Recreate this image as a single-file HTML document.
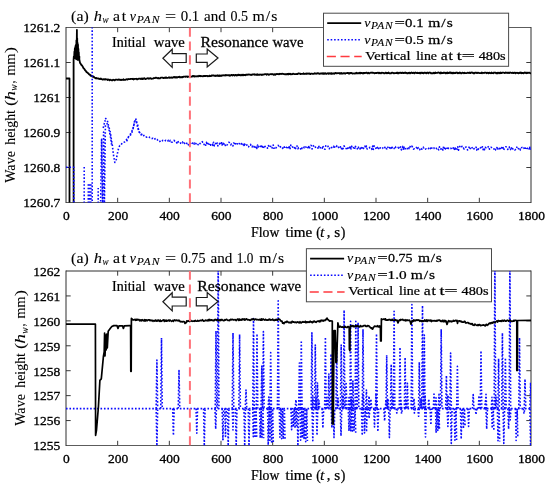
<!DOCTYPE html>
<html><head><meta charset="utf-8"><title>Wave height plot</title>
<style>html,body{margin:0;padding:0;background:#fff;width:550px;height:489px;overflow:hidden}svg{display:block}text{stroke:#000;stroke-width:0.25px}.tk text{stroke-width:0.32px}.tt text{stroke-width:0.12px}.yl text{stroke-width:0.08px}</style>
</head><body>
<svg width="550" height="489" viewBox="0 0 550 489">
<rect width="550" height="489" fill="#fff"/>
<defs><clipPath id="c1"><rect x="66.0" y="27.5" width="465.0" height="175.0"/></clipPath><clipPath id="c2"><rect x="66.0" y="271.0" width="465.0" height="174.5"/></clipPath></defs>
<rect x="66.0" y="27.5" width="465.0" height="175.0" fill="#fff" stroke="none"/>
<path d="M117.67 202.5v-4.7M117.67 27.5v4.7M169.33 202.5v-4.7M169.33 27.5v4.7M221 202.5v-4.7M221 27.5v4.7M272.67 202.5v-4.7M272.67 27.5v4.7M324.33 202.5v-4.7M324.33 27.5v4.7M376 202.5v-4.7M376 27.5v4.7M427.67 202.5v-4.7M427.67 27.5v4.7M479.33 202.5v-4.7M479.33 27.5v4.7M66.0 167.5h4.7M531.0 167.5h-4.7M66.0 132.5h4.7M531.0 132.5h-4.7M66.0 97.5h4.7M531.0 97.5h-4.7M66.0 62.5h4.7M531.0 62.5h-4.7" stroke="#3a3a3a" stroke-width="1.0" fill="none"/>
<path d="M66.0 27.5H531.0" stroke="#5c5c5c" stroke-width="1"/>
<path d="M66.0 202.5H531.0" stroke="#5c5c5c" stroke-width="1"/>
<path d="M66.0 27.0V203.0M531.0 27.0V203.0" stroke="#2e2e2e" stroke-width="1"/>
<g class="tk" font-family="'Liberation Serif', 'Times New Roman', serif" font-size="13.5" fill="#000"><text x="66.4" y="220.1" text-anchor="middle">0</text><text x="118.07" y="220.1" text-anchor="middle">200</text><text x="169.73" y="220.1" text-anchor="middle">400</text><text x="221.4" y="220.1" text-anchor="middle">600</text><text x="273.07" y="220.1" text-anchor="middle">800</text><text x="324.73" y="220.1" text-anchor="middle">1000</text><text x="376.4" y="220.1" text-anchor="middle">1200</text><text x="428.07" y="220.1" text-anchor="middle">1400</text><text x="479.73" y="220.1" text-anchor="middle">1600</text><text x="531.4" y="220.1" text-anchor="middle">1800</text><text x="60.3" y="207.3" text-anchor="end">1260.7</text><text x="60.3" y="172.3" text-anchor="end">1260.8</text><text x="60.3" y="137.3" text-anchor="end">1260.9</text><text x="60.3" y="102.3" text-anchor="end">1261</text><text x="60.3" y="67.3" text-anchor="end">1261.1</text><text x="60.3" y="32.3" text-anchor="end">1261.2</text></g>
<rect x="66.0" y="271.0" width="465.0" height="174.5" fill="#fff" stroke="none"/>
<path d="M117.67 445.5v-4.7M117.67 271v4.7M169.33 445.5v-4.7M169.33 271v4.7M221 445.5v-4.7M221 271v4.7M272.67 445.5v-4.7M272.67 271v4.7M324.33 445.5v-4.7M324.33 271v4.7M376 445.5v-4.7M376 271v4.7M427.67 445.5v-4.7M427.67 271v4.7M479.33 445.5v-4.7M479.33 271v4.7M66.0 420.57h4.7M531.0 420.57h-4.7M66.0 395.64h4.7M531.0 395.64h-4.7M66.0 370.71h4.7M531.0 370.71h-4.7M66.0 345.79h4.7M531.0 345.79h-4.7M66.0 320.86h4.7M531.0 320.86h-4.7M66.0 295.93h4.7M531.0 295.93h-4.7" stroke="#3a3a3a" stroke-width="1.0" fill="none"/>
<path d="M66.0 271.0H531.0" stroke="#2e2e2e" stroke-width="1"/>
<path d="M66.0 445.5H531.0" stroke="#5c5c5c" stroke-width="1"/>
<path d="M66.0 270.5V446.0M531.0 270.5V446.0" stroke="#2e2e2e" stroke-width="1"/>
<g class="tk" font-family="'Liberation Serif', 'Times New Roman', serif" font-size="13.5" fill="#000"><text x="66.4" y="463.1" text-anchor="middle">0</text><text x="118.07" y="463.1" text-anchor="middle">200</text><text x="169.73" y="463.1" text-anchor="middle">400</text><text x="221.4" y="463.1" text-anchor="middle">600</text><text x="273.07" y="463.1" text-anchor="middle">800</text><text x="324.73" y="463.1" text-anchor="middle">1000</text><text x="376.4" y="463.1" text-anchor="middle">1200</text><text x="428.07" y="463.1" text-anchor="middle">1400</text><text x="479.73" y="463.1" text-anchor="middle">1600</text><text x="531.4" y="463.1" text-anchor="middle">1800</text><text x="60.3" y="450.3" text-anchor="end">1255</text><text x="60.3" y="425.37" text-anchor="end">1256</text><text x="60.3" y="400.44" text-anchor="end">1257</text><text x="60.3" y="375.51" text-anchor="end">1258</text><text x="60.3" y="350.59" text-anchor="end">1259</text><text x="60.3" y="325.66" text-anchor="end">1260</text><text x="60.3" y="300.73" text-anchor="end">1261</text><text x="60.3" y="275.8" text-anchor="end">1262</text></g>
<g clip-path="url(#c1)" fill="none" stroke-linejoin="round">
<polyline points="66,78.5 69.5,78.5 69.5,210 73.6,210 73.6,59.1 73.6,59.97 73.8,56.6 74,56.45 74.2,56.29 74.4,51.61 74.6,57.46 74.8,48.72 75,58.03 75.2,47.2 75.4,57.73 75.6,45.71 75.8,56.36 76,44.77 76.2,59.31 76.4,40.37 76.6,56.89 76.9,30 77,58.51 77.2,38.34 77.4,58.31 77.6,42.9 77.8,59.91 78,44.71 78.2,59.43 78.4,48.87 78.6,56.58 78.8,52.35 79,57.23 79.2,58.45 79.4,56.72 79.3,59.1 80,62.93 80.6,63.61 81.2,64.69 81.8,65.18 82.4,66.1 82.91,66.94 83.43,68.06 83.94,68.53 84.46,69.13 84.97,70.08 85.49,70.66 86,71.22 86.5,72.09 87,72.44 87.5,72.46 88,73.19 88.5,73.57 89,74.32 89.5,74.62 90,74.65 90.5,75.7 91,75.36 91.54,75.89 92.09,76.46 92.63,76.19 93.18,76.76 93.72,76.62 94.27,77.45 94.81,77.8 95.36,77.9 95.9,78.44 96.41,78.01 96.91,78.44 97.42,78.43 97.93,78.5 98.43,78.47 98.94,78.89 99.44,79.07 99.95,78.73 100.46,78.98 100.96,78.52 101.47,79.18 101.97,79.21 102.48,79.6 102.99,79.53 103.49,79.12 104,79.3 104.5,79.6 105,79.07 105.5,79.52 106,79.3 106.5,79.31 107,79.3 107.5,79.99 108,79.47 108.5,79.62 109,79.8 109.5,80.28 110,79.62 110.5,79.94 111,80.02 111.5,80.32 112,80.25 112.5,80.28 113,79.74 113.5,79.85 114,79.79 114.5,80.26 115,80.31 115.5,79.58 116,79.59 116.5,79.63 117,79.62 117.5,79.84 118,79.92 118.5,79.62 119,79.37 119.5,79.74 120,79.68 120.5,79.84 121,80.16 121.5,79.9 122,79.72 122.5,79.79 123,79.82 123.5,79.24 124,79.97 124.5,79.84 125,79.9 125.5,79.81 126,79.42 126.5,79.41 127,79.12 127.5,79.57 128,79.03 128.5,79.01 129,79.12 129.5,79.05 130,79.19 130.5,78.91 131,78.84 131.5,78.95 132,78.88 132.5,79.09 133,78.77 133.5,79.51 134,79.25 134.5,78.81 135,78.88 135.5,78.94 136,78.93 136.5,78.69 137,79.32 137.5,79.43 138,78.93 138.5,78.92 139,78.54 139.5,78.53 140,78.73 140.5,78.63 141,79.12 141.5,78.49 142,78.34 142.5,79.16 143,78.75 143.5,78.39 144,78.72 144.5,78.23 145,78.66 145.5,79.04 146,78.91 146.5,78.74 147,78.33 147.5,78.4 148,78.19 148.5,78.71 149,78.48 149.5,78.67 150,78.25 150.5,78.13 151,78.64 151.5,78.77 152,78.63 152.5,78.56 153,78.55 153.5,78.46 154,77.97 154.5,78.21 155,78.05 155.5,77.73 156,77.71 156.5,77.91 157,77.87 157.5,78.24 158,78.45 158.5,77.97 159,78.39 159.5,78.41 160,78.36 160.5,77.81 161,77.65 161.5,77.64 162,77.59 162.5,77.57 163,77.93 163.5,78.15 164,78.08 164.5,77.73 165,77.86 165.5,77.97 166,77.31 166.5,77.8 167,78 167.5,77.87 168,77.82 168.5,77.55 169,77.26 169.5,77.78 170,77.35 170.5,77.75 171,77.88 171.5,77.34 172,77.32 172.5,77.79 173,77.57 173.5,77.05 174,76.98 174.5,76.98 175,77.64 175.5,77.53 176,76.91 176.5,77.5 177,77.62 177.5,77.3 178,77.01 178.5,77.16 179,76.76 179.5,76.64 180,77.47 180.5,77.16 181,77.03 181.5,77.37 182,76.9 182.5,77.27 183,77.21 183.5,76.63 184,76.65 184.5,76.66 185,76.59 185.5,76.88 186,76.56 186.5,76.68 187,76.4 187.5,77.08 188,76.56 188.5,76.63 189,76.72 189.5,76.99 190,76.53 190.5,76.95 191,76.55 191.5,76.55 192,76.52 192.5,76.04 193,76.4 193.5,76.14 194,75.95 194.5,76.64 195,76.06 195.5,76.3 196,76.5 196.5,76.33 197,76.09 197.5,76.24 198,76.25 198.5,76.43 199,75.8 199.5,76.18 200,75.87 200.5,75.89 201,76.32 201.5,76.07 202,76.1 202.5,76.27 203,76.39 203.5,75.96 204,76.09 204.5,75.98 205,75.98 205.5,76.13 206,75.9 206.5,75.96 207,75.89 207.5,76.3 208,76.07 208.5,76.21 209,76.26 209.5,75.63 210,75.89 210.5,76.22 211,76.11 211.5,75.47 212,75.44 212.5,75.71 213,75.37 213.5,75.51 214,75.34 214.5,75.87 215,75.96 215.5,76.04 216,75.36 216.5,75.85 217,75.79 217.5,75.31 218,75.96 218.5,76.03 219,75.34 219.5,75.99 220,75.48 220.5,75.54 221,75.98 221.5,75.83 222,75.21 222.5,75.44 223,75.5 223.5,75.33 224,75.19 224.5,75.28 225,75.63 225.5,74.99 226,75.46 226.5,75.34 227,74.95 227.5,75.22 228,75.46 228.5,75.35 229,74.93 229.5,75.75 230,75.56 230.5,75.71 231,74.92 231.5,75.05 232,74.84 232.5,75.49 233,75.02 233.5,74.88 234,75.13 234.5,75.56 235,75.46 235.5,74.95 236,74.83 236.5,75.51 237,75.19 237.5,75.29 238,74.73 238.5,74.69 239,75.24 239.5,75 240,74.67 240.5,75.43 241,75.15 241.5,75.28 242,74.63 242.5,75.31 243,74.58 243.5,75.29 244,74.91 244.5,74.79 245,74.97 245.5,75.3 246,74.69 246.5,74.55 247,74.9 247.5,74.63 248,74.5 248.5,74.53 249,74.42 249.5,74.54 250,74.63 250.5,74.61 251,75.01 251.5,74.58 252,74.76 252.5,74.46 253,74.6 253.5,74.3 254,74.5 254.5,74.27 255,74.91 255.5,74.74 256,74.4 256.5,74.65 257,75.05 257.5,74.3 258,74.93 258.5,74.57 259,74.62 259.5,74.91 260,74.5 260.5,74.6 261,74.75 261.5,75 262,74.42 262.5,74.85 263,74.73 263.5,74.65 264,74.43 264.5,74.37 265,74.1 265.5,74.16 266,74.09 266.5,74.69 267,74.24 267.5,74.15 268,74.07 268.5,74.74 269,74.75 269.5,74.56 270,74.2 270.5,74.16 271,74.19 271.5,74.33 272,74.05 272.5,74.3 273,74.13 273.5,74.75 274,74.75 274.5,74.35 275,74.07 275.5,74.71 276,74.11 276.5,74.14 277,73.81 277.5,74.14 278,74.22 278.5,74.23 279,73.95 279.5,74.21 280,73.75 280.5,73.98 281,73.81 281.5,74.08 282,73.75 282.5,73.72 283,73.96 283.5,73.89 284,74.2 284.5,74.14 285,74.33 285.5,74.23 286,74.27 286.5,74.41 287,73.96 287.5,73.89 288,74.48 288.5,73.71 289,74.22 289.5,74.14 290,73.59 290.5,74.29 291,74.33 291.5,74.08 292,74.17 292.5,74.23 293,73.62 293.5,73.95 294,73.92 294.5,74.21 295,74.17 295.5,74.18 296,73.96 296.5,74.22 297,74.02 297.5,74.02 298,73.6 298.5,73.41 299,73.49 299.5,73.68 300,73.44 300.5,74.1 301,73.84 301.5,73.9 302,73.89 302.5,73.93 303,73.76 303.5,73.31 304,74.02 304.5,73.97 305,73.75 305.5,73.77 306,73.87 306.5,73.34 307,73.93 307.5,73.49 308,73.33 308.5,73.49 309,73.9 309.5,73.43 310,73.9 310.5,74.11 311,73.67 311.5,73.56 312,73.64 312.5,73.82 313,73.89 313.5,73.75 314,73.77 314.5,73.25 315,73.31 315.5,73.4 316,73.84 316.5,73.44 317,73.67 317.5,73.16 318,73.2 318.5,73.38 319,73.74 319.5,73.75 320,73.73 320.5,73.38 321,73.57 321.5,73.52 322,73.52 322.5,73.2 323,73.89 323.5,73.26 324,73.96 324.5,73.91 325,73.08 325.5,73.47 326,73.79 326.5,73.92 327,73.45 327.5,73.28 328,73.22 328.5,73.88 329,73.21 329.5,73.54 330,73.13 330.5,73.47 331,73.85 331.5,73.11 332,73.72 332.5,73.44 333,73.77 333.5,73.6 334,73.17 334.5,73.76 335,73.39 335.5,72.97 336,72.94 336.5,73.38 337,73.33 337.5,73.19 338,73.04 338.5,73.22 339,73.19 339.5,73.65 340,72.89 340.5,73.56 341,73.64 341.5,72.98 342,73.7 342.5,73.51 343,73.67 343.5,73.11 344,73.18 344.5,73.2 345,73.73 345.5,73.36 346,73.15 346.5,73.2 347,73.06 347.5,72.85 348,72.89 348.5,73.55 349,73.05 349.5,73.63 350,73 350.5,73.01 351,73.23 351.5,72.93 352,73.09 352.5,73.61 353,73.54 353.5,73.47 354,73.3 354.5,73.55 355,73.57 355.5,73.21 356,73.36 356.5,72.75 357,73.36 357.5,73.1 358,73.36 358.5,73.26 359,72.93 359.5,72.71 360,73.5 360.5,72.77 361,73.08 361.5,72.96 362,72.91 362.5,73.3 363,73.51 363.5,72.86 364,73.21 364.5,72.88 365,73.11 365.5,72.96 366,72.75 366.5,72.74 367,72.77 367.5,73.39 368,73.02 368.5,72.77 369,73.38 369.5,73.45 370,72.95 370.5,72.68 371,72.72 371.5,72.63 372,72.86 372.5,72.63 373,72.76 373.5,72.78 374,73.06 374.5,73.34 375,73.22 375.5,72.91 376,72.91 376.5,73.01 377,72.88 377.5,72.85 378,72.6 378.5,72.79 379,73.41 379.5,72.65 380,72.99 380.5,73.1 381,73.31 381.5,72.73 382,72.78 382.5,72.76 383,72.89 383.5,72.93 384,73.39 384.5,73.3 385,73.32 385.5,72.55 386,72.56 386.5,73.17 387,73.33 387.5,72.95 388,73.06 388.5,72.53 389,72.88 389.5,73.36 390,73.27 390.5,73.29 391,73.4 391.5,72.75 392,72.62 392.5,72.66 393,72.99 393.5,73.13 394,73.37 394.5,73.17 395,73.1 395.5,73.21 396,72.93 396.5,73.01 397,72.55 397.5,73.22 398,72.72 398.5,73.34 399,73.09 399.5,72.79 400,72.63 400.5,72.74 401,73.08 401.5,73.14 402,72.61 402.5,72.57 403,72.98 403.5,73.03 404,72.86 404.5,72.71 405,73.05 405.5,72.52 406,72.78 406.5,72.92 407,73.37 407.5,73.08 408,73.3 408.5,72.93 409,72.71 409.5,72.72 410,73.36 410.5,73.13 411,72.78 411.5,72.52 412,72.95 412.5,73.1 413,72.87 413.5,72.73 414,73.1 414.5,73.33 415,72.7 415.5,72.52 416,72.8 416.5,72.87 417,73.11 417.5,72.67 418,73.21 418.5,73.15 419,72.94 419.5,72.67 420,73.36 420.5,72.77 421,73.22 421.5,72.69 422,72.68 422.5,73.17 423,72.75 423.5,73.34 424,72.93 424.5,72.65 425,72.68 425.5,72.86 426,73.08 426.5,73.33 427,72.61 427.5,72.83 428,72.67 428.5,73.35 429,72.6 429.5,72.52 430,72.53 430.5,72.83 431,73.28 431.5,73.27 432,73.13 432.5,73.37 433,73.31 433.5,72.77 434,72.64 434.5,73.31 435,73.14 435.5,72.5 436,73.07 436.5,72.81 437,72.8 437.5,72.76 438,72.62 438.5,72.47 439,72.72 439.5,72.78 440,73.32 440.5,72.57 441,73.33 441.5,72.65 442,72.78 442.5,73.2 443,73.2 443.5,72.85 444,72.5 444.5,72.88 445,72.79 445.5,73.28 446,72.63 446.5,72.78 447,73.26 447.5,72.48 448,72.82 448.5,73.18 449,73.14 449.5,72.49 450,72.48 450.5,72.51 451,73.28 451.5,72.68 452,73.12 452.5,73.26 453,72.76 453.5,72.7 454,73.31 454.5,73.01 455,72.69 455.5,73.09 456,72.73 456.5,72.7 457,72.45 457.5,73.13 458,73.27 458.5,73.02 459,73.3 459.5,72.47 460,72.66 460.5,72.88 461,73.31 461.5,73.31 462,72.8 462.5,72.68 463,72.84 463.5,72.89 464,73.29 464.5,72.61 465,73.17 465.5,73.11 466,73.19 466.5,73.15 467,73 467.5,72.75 468,72.74 468.5,72.78 469,73.15 469.5,72.52 470,72.63 470.5,73.13 471,72.67 471.5,72.51 472,72.48 472.5,72.95 473,72.74 473.5,73.33 474,73.25 474.5,73.34 475,72.69 475.5,72.53 476,72.54 476.5,72.9 477,73.09 477.5,72.85 478,72.66 478.5,72.83 479,73.01 479.5,73.06 480,73.12 480.5,73.21 481,73.05 481.5,72.56 482,73.21 482.5,72.71 483,72.96 483.5,72.79 484,73.11 484.5,72.63 485,72.67 485.5,72.67 486,72.59 486.5,73.25 487,72.97 487.5,72.74 488,72.81 488.5,73.34 489,72.91 489.5,72.66 490,73.18 490.5,73.04 491,73.34 491.5,72.54 492,72.88 492.5,73.19 493,73.21 493.5,73.27 494,72.49 494.5,72.71 495,72.56 495.5,72.62 496,73.33 496.5,72.97 497,73.29 497.5,72.79 498,73.23 498.5,72.85 499,72.68 499.5,73.15 500,73.3 500.5,72.55 501,72.99 501.5,73.01 502,72.65 502.5,72.78 503,72.58 503.5,72.63 504,72.68 504.5,72.99 505,73.04 505.5,72.63 506,72.46 506.5,72.74 507,73.06 507.5,72.62 508,72.73 508.5,72.63 509,73.17 509.5,72.94 510,72.51 510.5,72.54 511,72.81 511.5,72.95 512,73.03 512.5,72.53 513,72.6 513.5,73.08 514,72.82 514.5,72.7 515,72.73 515.5,73.31 516,72.73 516.5,72.96 517,72.77 517.5,72.82 518,73.23 518.5,73.35 519,72.78 519.5,72.63 520,73.11 520.5,72.63 521,72.46 521.5,73.26 522,72.83 522.5,73.19 523,72.82 523.5,73.24 524,72.86 524.5,72.6 525,72.46 525.5,72.95 526,73.03 526.5,73.27 527,72.53 527.5,73.01 528,72.78 528.5,72.9 529,72.58 529.5,72.7 530,72.92 530.5,73.28 531,72.9" stroke="#000" stroke-width="1.8"/>
<polyline points="66,167.2 73.8,167.2 73.8,210" stroke="#0a0aff" stroke-width="1.6" stroke-dasharray="1.6 1.85"/>
<polyline points="84.2,210 84.2,167.1" stroke="#0a0aff" stroke-width="1.6" stroke-dasharray="1.6 1.85"/>
<polyline points="88.3,210 88.3,183.7" stroke="#0a0aff" stroke-width="1.6" stroke-dasharray="1.6 1.85"/>
<polyline points="89.6,210 89.6,183.7" stroke="#0a0aff" stroke-width="1.6" stroke-dasharray="1.6 1.85"/>
<polyline points="90.9,210 90.9,183.7" stroke="#0a0aff" stroke-width="1.6" stroke-dasharray="1.6 1.85"/>
<polyline points="92.2,20 92.2,210" stroke="#0a0aff" stroke-width="1.6" stroke-dasharray="1.6 1.85"/>
<polyline points="98.2,210 98.2,188.1" stroke="#0a0aff" stroke-width="1.6" stroke-dasharray="1.6 1.85"/>
<polyline points="100.6,205 101.6,139.4 102.6,205 103.6,132 104.4,205 105.4,125.28" stroke="#0a0aff" stroke-width="1.6" stroke-dasharray="1.6 1.85"/>
<polyline points="105.3,118 106.4,119.39 107.5,121.25 108.75,126.69 110,130.55 111.2,138.17 112.4,145.91 113.6,155.6 114.8,162.48 116,160.81 117.25,154.24 118.5,148.65 119.75,145.57 121,145.07 122.2,142.94 123.4,142.31 124.7,141.94 126,140.66 127.15,138.17 128.3,137.04 129.4,135.6 130.5,134.04 131.85,130.97 133.2,127.65 134.45,122.69 135.7,118.45 136.9,124.59 138.1,128.68 139.3,131.92 140.5,134.51 141.75,134.23 143,136.3 144,135.46 145,136.87 146,136.9 147,137.26 148,136.58 149,137.04 150,137.61 150.91,137.57 151.82,138.54 152.73,138.35 153.64,138.69 154.55,137.98 155.45,139.89 156.36,139.92 157.27,139.62 158.18,141.36 159.09,141.76 160,141.29 160.94,140.57 161.88,141.34 162.81,140.4 163.75,140.46 164.69,141.25 165.62,140.38 166.56,141.29 167.5,141.48 168.44,140.26 169.38,141.82 170.31,140.38 171.25,142.08 172.19,142.2 173.12,141.52 174.06,140.33 175,141.51 175.94,141.34 176.88,142.98 177.81,141.02 178.75,143.05 179.69,143.57 180.62,143.04 181.56,143.41 182.5,141.95 183.44,144.16 184.38,143.04 185.31,144.41 186.25,144.46 187.19,142.66 188.12,144.44 189.06,144.96 190,142.87 190.91,143.57 191.82,144.58 192.73,142.98 193.64,144.85 194.55,143.19 195.45,144.55 196.36,142.76 197.27,143.64 198.18,144.68 199.09,142.79 200,143.5 200.71,143.54 201.43,142.81 202.14,141.7 202.86,142.3 203.57,142.23 204.29,145.35 205,144.34 205.71,145.22 206.43,142.34 207.14,144.82 207.86,142.16 208.57,143.84 209.29,144.28 210,143.19 210.71,145.26 211.43,144.01 212.14,144.12 212.86,145.35 213.57,142.26 214.29,145.83 215,144.39 215.71,143.47 216.43,145.1 217.14,142.99 217.86,145.91 218.57,144.27 219.29,143.42 220,145.06 220.71,143.79 221.43,142.75 222.14,145.04 222.86,142.28 223.57,145.39 224.29,143.15 225,144.72 225.71,146.12 226.43,144.55 227.14,144.88 227.86,143.5 228.57,142.28 229.29,142.43 230,142.92 230.71,144.81 231.43,144.09 232.14,144.44 232.86,145.99 233.57,142.96 234.29,143.37 235,145.09 235.71,142.59 236.43,142.54 237.14,143.97 237.86,143 238.57,144.02 239.29,143.51 240,144.97 240.71,145.02 241.43,143.5 242.14,145.2 242.86,144.63 243.57,143.29 244.29,146.52 245,143.77 245.7,143.6 246.4,143.58 247.1,145.95 247.8,147.09 248.5,146.93 249.2,145.61 249.9,145.26 250.6,144.45 251.3,147.18 252,147.05 252.71,146.21 253.41,147.39 254.12,146.59 254.82,148.57 255.53,147.76 256.24,145.82 256.94,148.44 257.65,145.01 258.35,146.97 259.06,146.47 259.76,145.8 260.47,145.09 261.18,147.97 261.88,144.91 262.59,147.07 263.29,148.63 264,145.44 264.71,145.68 265.41,147.32 266.12,146.92 266.82,147.46 267.53,148.15 268.24,145.6 268.94,146.14 269.65,146.11 270.35,145.11 271.06,148.48 271.76,148.06 272.47,147.79 273.18,144.96 273.88,148.31 274.59,147.92 275.29,146.81 276,147.92 276.71,146.76 277.41,145.86 278.12,145.38 278.82,145.9 279.53,145.13 280.24,146.32 280.94,147.98 281.65,147.77 282.35,148.37 283.06,147.84 283.76,146.06 284.47,147.22 285.18,146.75 285.88,148.17 286.59,147.11 287.29,146.08 288,147.59 288.71,148.89 289.41,145.9 290.12,148.56 290.82,145.1 291.53,146.09 292.24,146 292.94,148.03 293.65,148.84 294.35,148.05 295.06,146.38 295.76,148.59 296.47,146.39 297.18,146.04 297.88,148.72 298.59,147.61 299.29,147.87 300,147.76 300.71,149.03 301.43,147 302.14,148.49 302.86,147.93 303.57,148.58 304.29,146.91 305,148.07 305.71,147.46 306.43,146.42 307.14,146.04 307.86,147.7 308.57,145.53 309.29,148.87 310,145.81 310.71,145.35 311.43,145.68 312.14,148.98 312.86,146.65 313.57,145.85 314.29,145.41 315,145.47 315.71,148.08 316.43,147.85 317.14,148.12 317.86,148.29 318.57,145.61 319.29,147.72 320,146.82 320.71,148.65 321.43,148.66 322.14,148.96 322.86,145.67 323.57,148.89 324.29,149.08 325,149.21 325.71,145.87 326.43,146.28 327.14,145.91 327.86,145.61 328.57,148.87 329.29,148.74 330,148.04 330.7,148.81 331.4,148.04 332.1,146.66 332.8,145.92 333.5,145.92 334.2,148.56 334.9,146.35 335.6,146.82 336.3,147.24 337,145.63 337.7,146.58 338.4,146.69 339.1,148.43 339.8,147.04 340.5,146.86 341.2,149.44 341.9,147.6 342.6,149 343.3,148.07 344,145.72 344.7,147.26 345.4,147.36 346.1,148.71 346.8,147.01 347.5,148.44 348.2,147.78 348.9,146.5 349.6,149.09 350.3,146.01 351,148.93 351.7,146.34 352.4,145.67 353.1,146.47 353.8,148.72 354.5,149.59 355.2,145.7 355.9,147.65 356.6,147.66 357.3,148.88 358,146.44 358.7,147.68 359.4,147.1 360.1,149.04 360.8,146.76 361.5,149.5 362.2,146.86 362.9,146.59 363.6,148.54 364.3,147.74 365,146.19 365.7,148.3 366.4,146.08 367.1,148.92 367.8,148.56 368.5,148.92 369.2,148.29 369.9,147.21 370.6,147.4 371.3,147.37 372,149.36 372.7,146.15 373.4,149.36 374.1,145.92 374.8,146.64 375.5,146.88 376.2,149.43 376.9,147.84 377.6,147.36 378.3,149.38 379,146.78 379.7,147.7 380.4,147.99 381.1,148.88 381.8,148.88 382.5,148.46 383.2,147.27 383.9,147.19 384.6,146.51 385.3,149.27 386,148.55 386.7,148.87 387.4,146.59 388.1,147.67 388.8,149.01 389.5,148.24 390.2,146.43 390.9,147.78 391.6,149.48 392.3,146.9 393,146.72 393.7,147.16 394.4,148.77 395.1,149.34 395.8,146.59 396.5,146.6 397.2,146.97 397.9,147.29 398.6,148.08 399.3,146.64 400,147.31 400.7,146.76 401.41,149.91 402.11,148.92 402.82,146.42 403.52,149.86 404.23,146.42 404.93,147.56 405.63,149.96 406.34,149.2 407.04,148.96 407.75,147.77 408.45,146.82 409.15,148.59 409.86,146.47 410.56,146.87 411.27,147.6 411.97,146.18 412.68,147.65 413.38,149.22 414.08,148.83 414.79,148.06 415.49,148.59 416.2,147.92 416.9,146.63 417.61,148.49 418.31,147.69 419.01,149.04 419.72,149.71 420.42,147.8 421.13,148.38 421.83,149.08 422.54,147.77 423.24,147.01 423.94,148.98 424.65,149.62 425.35,149.2 426.06,148.9 426.76,149.52 427.46,148.83 428.17,148.68 428.87,147.93 429.58,147.37 430.28,148.63 430.99,146.52 431.69,147.81 432.39,149.26 433.1,148.98 433.8,148.65 434.51,147.14 435.21,147.84 435.92,147.96 436.62,148.63 437.32,147.79 438.03,148.85 438.73,149.88 439.44,146.89 440.14,148.78 440.85,149.28 441.55,147.72 442.25,148.13 442.96,150.07 443.66,146.33 444.37,148.35 445.07,146.82 445.77,149.31 446.48,149.95 447.18,148.27 447.89,146.6 448.59,148.49 449.3,148.36 450,149.07 450.7,148.25 451.41,148.76 452.11,149.52 452.82,148.29 453.52,147.85 454.23,150 454.93,147.05 455.63,148.95 456.34,147.79 457.04,149.27 457.75,146.71 458.45,150.16 459.16,147.64 459.86,146.45 460.57,147.32 461.27,147.83 461.97,146.28 462.68,147.91 463.38,147.92 464.09,149.03 464.79,147.65 465.5,147.3 466.2,147.14 466.9,149.21 467.61,150 468.31,148.35 469.02,147.12 469.72,149.45 470.43,147.82 471.13,147.1 471.83,146.77 472.54,149.36 473.24,149.5 473.95,148.8 474.65,148.14 475.36,148.51 476.06,147.17 476.77,150.12 477.47,147.68 478.17,148.82 478.88,149.55 479.58,149.54 480.29,148.15 480.99,147.45 481.7,148.47 482.4,146.78 483.1,149.62 483.81,147.7 484.51,149.69 485.22,147.36 485.92,147.79 486.63,147.3 487.33,148 488.03,147.04 488.74,146.31 489.44,149.18 490.15,147.42 490.85,147.28 491.56,147.51 492.26,148.22 492.97,148.02 493.67,148.86 494.37,148.95 495.08,147.76 495.78,150.03 496.49,149.73 497.19,146.54 497.9,149.63 498.6,149.94 499.3,149.46 500.01,146.89 500.71,149.65 501.42,148.86 502.12,146.39 502.83,146.38 503.53,150.14 504.23,148.96 504.94,147.34 505.64,146.74 506.35,146.91 507.05,147.28 507.76,149.45 508.46,147.73 509.17,146.96 509.87,149.96 510.57,149.52 511.28,147.02 511.98,149.92 512.69,148.79 513.39,149.48 514.1,149.03 514.8,149.94 515.5,149.51 516.21,149.72 516.91,147.15 517.62,149.14 518.32,148.49 519.03,149.34 519.73,148.13 520.43,149.9 521.14,148.6 521.84,147.44 522.55,147.32 523.25,146.94 523.96,148.35 524.66,146.62 525.37,148.25 526.07,146.97 526.77,148.36 527.48,148.38 528.18,148.55 528.89,149.85 529.59,146.42 530.3,149.76 531,148.4" stroke="#0a0aff" stroke-width="1.6" stroke-dasharray="1.6 1.85"/>
<polyline points="103.2,127.95 104.1,124.35 105,120.76 106.1,122.79 107.2,123.8 108.35,127.37 109.5,131.74 110.65,137.82 111.8,146" stroke="#0a0aff" stroke-width="1.6" stroke-dasharray="1.6 1.85"/>
<polyline points="126.5,141.25 127.5,139.75 128.5,137.15 129.5,136.7 130.5,135 131.5,133.61 132.5,130.69 133.55,126.87 134.6,121.02 135.6,120.97 136.6,121.72 137.7,125.16 138.8,131.39 139.7,132.73 140.6,133.71 141.5,135.5" stroke="#0a0aff" stroke-width="1.6" stroke-dasharray="1.6 1.85"/>
<line x1="189.9" y1="27.6" x2="189.9" y2="202.5" stroke="#ff7078" stroke-width="2" stroke-dasharray="9.2 4.6"/>
</g>
<g clip-path="url(#c2)" fill="none" stroke-linejoin="round">
<polyline points="66,408.6 531,408.6" stroke="#0a0aff" stroke-width="1.6" stroke-dasharray="1.6 1.85"/>
<polyline points="156.15,408.6 156.9,360 157.65,408.6" stroke="#0a0aff" stroke-width="1.6" stroke-dasharray="1.6 1.85"/>
<polyline points="160.75,408.6 161.5,338 162.25,408.6" stroke="#0a0aff" stroke-width="1.6" stroke-dasharray="1.6 1.85"/>
<polyline points="178.25,408.6 179,370.6 179.75,408.6" stroke="#0a0aff" stroke-width="1.6" stroke-dasharray="1.6 1.85"/>
<polyline points="215.25,408.6 216,331 216.75,408.6" stroke="#0a0aff" stroke-width="1.6" stroke-dasharray="1.6 1.85"/>
<polyline points="217.45,408.6 218.2,260 218.95,408.6" stroke="#0a0aff" stroke-width="1.6" stroke-dasharray="1.6 1.85"/>
<polyline points="232.25,408.6 233,332.8 233.75,408.6" stroke="#0a0aff" stroke-width="1.6" stroke-dasharray="1.6 1.85"/>
<polyline points="238.85,408.6 239.6,334.5 240.35,408.6" stroke="#0a0aff" stroke-width="1.6" stroke-dasharray="1.6 1.85"/>
<polyline points="245.25,408.6 246,390 246.75,408.6" stroke="#0a0aff" stroke-width="1.6" stroke-dasharray="1.6 1.85"/>
<polyline points="252.75,408.6 253.5,318.5 254.25,408.6" stroke="#0a0aff" stroke-width="1.6" stroke-dasharray="1.6 1.85"/>
<polyline points="256.25,408.6 257,333.8 257.75,408.6" stroke="#0a0aff" stroke-width="1.6" stroke-dasharray="1.6 1.85"/>
<polyline points="261.05,408.6 261.8,365.6 262.55,408.6" stroke="#0a0aff" stroke-width="1.6" stroke-dasharray="1.6 1.85"/>
<polyline points="262.65,408.6 263.4,331.5 264.15,408.6" stroke="#0a0aff" stroke-width="1.6" stroke-dasharray="1.6 1.85"/>
<polyline points="268.05,408.6 268.8,397 269.55,408.6" stroke="#0a0aff" stroke-width="1.6" stroke-dasharray="1.6 1.85"/>
<polyline points="269.95,408.6 270.7,352.6 271.45,408.6" stroke="#0a0aff" stroke-width="1.6" stroke-dasharray="1.6 1.85"/>
<polyline points="277.45,408.6 278.2,300.9 278.95,408.6" stroke="#0a0aff" stroke-width="1.6" stroke-dasharray="1.6 1.85"/>
<polyline points="295.15,408.6 295.9,399.7 296.65,408.6" stroke="#0a0aff" stroke-width="1.6" stroke-dasharray="1.6 1.85"/>
<polyline points="298.65,408.6 299.4,363 300.15,408.6" stroke="#0a0aff" stroke-width="1.6" stroke-dasharray="1.6 1.85"/>
<polyline points="300.55,408.6 301.3,340.5 302.05,408.6" stroke="#0a0aff" stroke-width="1.6" stroke-dasharray="1.6 1.85"/>
<polyline points="311.15,408.6 311.9,332.7 312.65,408.6" stroke="#0a0aff" stroke-width="1.6" stroke-dasharray="1.6 1.85"/>
<polyline points="314.55,408.6 315.3,345 316.05,408.6" stroke="#0a0aff" stroke-width="1.6" stroke-dasharray="1.6 1.85"/>
<polyline points="316.75,408.6 317.5,383 318.25,408.6" stroke="#0a0aff" stroke-width="1.6" stroke-dasharray="1.6 1.85"/>
<polyline points="324.65,408.6 325.4,337.2 326.15,408.6" stroke="#0a0aff" stroke-width="1.6" stroke-dasharray="1.6 1.85"/>
<polyline points="328.05,408.6 328.8,374 329.55,408.6" stroke="#0a0aff" stroke-width="1.6" stroke-dasharray="1.6 1.85"/>
<polyline points="330.25,408.6 331,354 331.75,408.6" stroke="#0a0aff" stroke-width="1.6" stroke-dasharray="1.6 1.85"/>
<polyline points="335.95,408.6 336.7,342.8 337.45,408.6" stroke="#0a0aff" stroke-width="1.6" stroke-dasharray="1.6 1.85"/>
<polyline points="340.45,408.6 341.2,345 341.95,408.6" stroke="#0a0aff" stroke-width="1.6" stroke-dasharray="1.6 1.85"/>
<polyline points="343.35,408.6 344.1,310 344.85,408.6" stroke="#0a0aff" stroke-width="1.6" stroke-dasharray="1.6 1.85"/>
<polyline points="345.35,408.6 346.1,382 346.85,408.6" stroke="#0a0aff" stroke-width="1.6" stroke-dasharray="1.6 1.85"/>
<polyline points="349.85,408.6 350.6,321.4 351.35,408.6" stroke="#0a0aff" stroke-width="1.6" stroke-dasharray="1.6 1.85"/>
<polyline points="352.15,408.6 352.9,381 353.65,408.6" stroke="#0a0aff" stroke-width="1.6" stroke-dasharray="1.6 1.85"/>
<polyline points="355.05,408.6 355.8,321.4 356.55,408.6" stroke="#0a0aff" stroke-width="1.6" stroke-dasharray="1.6 1.85"/>
<polyline points="357.35,408.6 358.1,322.5 358.85,408.6" stroke="#0a0aff" stroke-width="1.6" stroke-dasharray="1.6 1.85"/>
<polyline points="362.25,408.6 363,329.3 363.75,408.6" stroke="#0a0aff" stroke-width="1.6" stroke-dasharray="1.6 1.85"/>
<polyline points="365.65,408.6 366.4,390 367.15,408.6" stroke="#0a0aff" stroke-width="1.6" stroke-dasharray="1.6 1.85"/>
<polyline points="370.15,408.6 370.9,399 371.65,408.6" stroke="#0a0aff" stroke-width="1.6" stroke-dasharray="1.6 1.85"/>
<polyline points="375.75,408.6 376.5,333.8 377.25,408.6" stroke="#0a0aff" stroke-width="1.6" stroke-dasharray="1.6 1.85"/>
<polyline points="385.95,408.6 386.7,355.2 387.45,408.6" stroke="#0a0aff" stroke-width="1.6" stroke-dasharray="1.6 1.85"/>
<polyline points="390.45,408.6 391.2,364.2 391.95,408.6" stroke="#0a0aff" stroke-width="1.6" stroke-dasharray="1.6 1.85"/>
<polyline points="393.35,408.6 394.1,311.3 394.85,408.6" stroke="#0a0aff" stroke-width="1.6" stroke-dasharray="1.6 1.85"/>
<polyline points="399.25,408.6 400,347.3 400.75,408.6" stroke="#0a0aff" stroke-width="1.6" stroke-dasharray="1.6 1.85"/>
<polyline points="404.35,408.6 405.1,357.4 405.85,408.6" stroke="#0a0aff" stroke-width="1.6" stroke-dasharray="1.6 1.85"/>
<polyline points="406.65,408.6 407.4,383.3 408.15,408.6" stroke="#0a0aff" stroke-width="1.6" stroke-dasharray="1.6 1.85"/>
<polyline points="411.15,408.6 411.9,304.5 412.65,408.6" stroke="#0a0aff" stroke-width="1.6" stroke-dasharray="1.6 1.85"/>
<polyline points="418.55,408.6 419.3,362 420.05,408.6" stroke="#0a0aff" stroke-width="1.6" stroke-dasharray="1.6 1.85"/>
<polyline points="421.75,408.6 422.5,305.6 423.25,408.6" stroke="#0a0aff" stroke-width="1.6" stroke-dasharray="1.6 1.85"/>
<polyline points="423.55,408.6 424.3,335 425.05,408.6" stroke="#0a0aff" stroke-width="1.6" stroke-dasharray="1.6 1.85"/>
<polyline points="428.05,408.6 428.8,399 429.55,408.6" stroke="#0a0aff" stroke-width="1.6" stroke-dasharray="1.6 1.85"/>
<polyline points="440.45,408.6 441.2,329.3 441.95,408.6" stroke="#0a0aff" stroke-width="1.6" stroke-dasharray="1.6 1.85"/>
<polyline points="445.65,408.6 446.4,375.5 447.15,408.6" stroke="#0a0aff" stroke-width="1.6" stroke-dasharray="1.6 1.85"/>
<polyline points="449.85,408.6 450.6,353 451.35,408.6" stroke="#0a0aff" stroke-width="1.6" stroke-dasharray="1.6 1.85"/>
<polyline points="456.65,408.6 457.4,366.4 458.15,408.6" stroke="#0a0aff" stroke-width="1.6" stroke-dasharray="1.6 1.85"/>
<polyline points="472.45,408.6 473.2,394.6 473.95,408.6" stroke="#0a0aff" stroke-width="1.6" stroke-dasharray="1.6 1.85"/>
<polyline points="480.25,408.6 481,350.7 481.75,408.6" stroke="#0a0aff" stroke-width="1.6" stroke-dasharray="1.6 1.85"/>
<polyline points="484.75,408.6 485.5,401 486.25,408.6" stroke="#0a0aff" stroke-width="1.6" stroke-dasharray="1.6 1.85"/>
<polyline points="494.15,408.6 494.9,260 495.65,408.6" stroke="#0a0aff" stroke-width="1.6" stroke-dasharray="1.6 1.85"/>
<polyline points="497.85,408.6 498.6,358.6 499.35,408.6" stroke="#0a0aff" stroke-width="1.6" stroke-dasharray="1.6 1.85"/>
<polyline points="501.65,408.6 502.4,333 503.15,408.6" stroke="#0a0aff" stroke-width="1.6" stroke-dasharray="1.6 1.85"/>
<polyline points="504.65,408.6 505.4,357.9 506.15,408.6" stroke="#0a0aff" stroke-width="1.6" stroke-dasharray="1.6 1.85"/>
<polyline points="509.15,408.6 509.9,260 510.65,408.6" stroke="#0a0aff" stroke-width="1.6" stroke-dasharray="1.6 1.85"/>
<polyline points="518.75,408.6 519.5,337.6 520.25,408.6" stroke="#0a0aff" stroke-width="1.6" stroke-dasharray="1.6 1.85"/>
<polyline points="524.25,408.6 525,379 525.75,408.6" stroke="#0a0aff" stroke-width="1.6" stroke-dasharray="1.6 1.85"/>
<polyline points="529.85,408.6 530.6,382.7 531.35,408.6" stroke="#0a0aff" stroke-width="1.6" stroke-dasharray="1.6 1.85"/>
<polyline points="312.3,408.6 313,397.17 313.7,408.6" stroke="#0a0aff" stroke-width="1.6" stroke-dasharray="1.6 1.85"/>
<polyline points="315.3,408.6 316,397.92 316.7,408.6" stroke="#0a0aff" stroke-width="1.6" stroke-dasharray="1.6 1.85"/>
<polyline points="318.3,408.6 319,400.47 319.7,408.6" stroke="#0a0aff" stroke-width="1.6" stroke-dasharray="1.6 1.85"/>
<polyline points="326.3,408.6 327,397.26 327.7,408.6" stroke="#0a0aff" stroke-width="1.6" stroke-dasharray="1.6 1.85"/>
<polyline points="331.3,408.6 332,397.55 332.7,408.6" stroke="#0a0aff" stroke-width="1.6" stroke-dasharray="1.6 1.85"/>
<polyline points="337.3,408.6 338,398.11 338.7,408.6" stroke="#0a0aff" stroke-width="1.6" stroke-dasharray="1.6 1.85"/>
<polyline points="342.3,408.6 343,395.29 343.7,408.6" stroke="#0a0aff" stroke-width="1.6" stroke-dasharray="1.6 1.85"/>
<polyline points="348.3,408.6 349,397.58 349.7,408.6" stroke="#0a0aff" stroke-width="1.6" stroke-dasharray="1.6 1.85"/>
<polyline points="350.3,408.6 351,398.41 351.7,408.6" stroke="#0a0aff" stroke-width="1.6" stroke-dasharray="1.6 1.85"/>
<polyline points="352.3,408.6 353,399.55 353.7,408.6" stroke="#0a0aff" stroke-width="1.6" stroke-dasharray="1.6 1.85"/>
<polyline points="362.3,408.6 363,394.66 363.7,408.6" stroke="#0a0aff" stroke-width="1.6" stroke-dasharray="1.6 1.85"/>
<polyline points="368.3,408.6 369,396.12 369.7,408.6" stroke="#0a0aff" stroke-width="1.6" stroke-dasharray="1.6 1.85"/>
<polyline points="375.3,408.6 376,394.63 376.7,408.6" stroke="#0a0aff" stroke-width="1.6" stroke-dasharray="1.6 1.85"/>
<polyline points="385.3,408.6 386,399.67 386.7,408.6" stroke="#0a0aff" stroke-width="1.6" stroke-dasharray="1.6 1.85"/>
<polyline points="387.3,408.6 388,398.85 388.7,408.6" stroke="#0a0aff" stroke-width="1.6" stroke-dasharray="1.6 1.85"/>
<polyline points="392.3,408.6 393,394.29 393.7,408.6" stroke="#0a0aff" stroke-width="1.6" stroke-dasharray="1.6 1.85"/>
<polyline points="400.3,408.6 401,400.88 401.7,408.6" stroke="#0a0aff" stroke-width="1.6" stroke-dasharray="1.6 1.85"/>
<polyline points="405.3,408.6 406,400.75 406.7,408.6" stroke="#0a0aff" stroke-width="1.6" stroke-dasharray="1.6 1.85"/>
<polyline points="413.3,408.6 414,398.58 414.7,408.6" stroke="#0a0aff" stroke-width="1.6" stroke-dasharray="1.6 1.85"/>
<polyline points="420.3,408.6 421,398.31 421.7,408.6" stroke="#0a0aff" stroke-width="1.6" stroke-dasharray="1.6 1.85"/>
<polyline points="424.3,408.6 425,395.1 425.7,408.6" stroke="#0a0aff" stroke-width="1.6" stroke-dasharray="1.6 1.85"/>
<polyline points="433.3,408.6 434,394.11 434.7,408.6" stroke="#0a0aff" stroke-width="1.6" stroke-dasharray="1.6 1.85"/>
<polyline points="435.3,408.6 436,397.7 436.7,408.6" stroke="#0a0aff" stroke-width="1.6" stroke-dasharray="1.6 1.85"/>
<polyline points="438.3,408.6 439,394.42 439.7,408.6" stroke="#0a0aff" stroke-width="1.6" stroke-dasharray="1.6 1.85"/>
<polyline points="447.3,408.6 448,395.33 448.7,408.6" stroke="#0a0aff" stroke-width="1.6" stroke-dasharray="1.6 1.85"/>
<polyline points="478.3,408.6 479,395.69 479.7,408.6" stroke="#0a0aff" stroke-width="1.6" stroke-dasharray="1.6 1.85"/>
<polyline points="485.3,408.6 486,394.21 486.7,408.6" stroke="#0a0aff" stroke-width="1.6" stroke-dasharray="1.6 1.85"/>
<polyline points="491.3,408.6 492,397.25 492.7,408.6" stroke="#0a0aff" stroke-width="1.6" stroke-dasharray="1.6 1.85"/>
<polyline points="495.3,408.6 496,397.08 496.7,408.6" stroke="#0a0aff" stroke-width="1.6" stroke-dasharray="1.6 1.85"/>
<polyline points="156.15,408.6 156.9,446 157.65,408.6" stroke="#0a0aff" stroke-width="1.6" stroke-dasharray="1.6 1.85"/>
<polyline points="172.65,408.6 173.4,435.4 174.15,408.6" stroke="#0a0aff" stroke-width="1.6" stroke-dasharray="1.6 1.85"/>
<polyline points="196.05,408.6 196.8,433.3 197.55,408.6" stroke="#0a0aff" stroke-width="1.6" stroke-dasharray="1.6 1.85"/>
<polyline points="203.55,408.6 204.3,446 205.05,408.6" stroke="#0a0aff" stroke-width="1.6" stroke-dasharray="1.6 1.85"/>
<polyline points="214.95,408.6 215.7,429 216.45,408.6" stroke="#0a0aff" stroke-width="1.6" stroke-dasharray="1.6 1.85"/>
<polyline points="222.15,408.6 222.9,439.7 223.65,408.6" stroke="#0a0aff" stroke-width="1.6" stroke-dasharray="1.6 1.85"/>
<polyline points="224.75,408.6 225.5,436.5 226.25,408.6" stroke="#0a0aff" stroke-width="1.6" stroke-dasharray="1.6 1.85"/>
<polyline points="227.45,408.6 228.2,446 228.95,408.6" stroke="#0a0aff" stroke-width="1.6" stroke-dasharray="1.6 1.85"/>
<polyline points="232.25,408.6 233,430 233.75,408.6" stroke="#0a0aff" stroke-width="1.6" stroke-dasharray="1.6 1.85"/>
<polyline points="235.45,408.6 236.2,446 236.95,408.6" stroke="#0a0aff" stroke-width="1.6" stroke-dasharray="1.6 1.85"/>
<polyline points="243.95,408.6 244.7,446 245.45,408.6" stroke="#0a0aff" stroke-width="1.6" stroke-dasharray="1.6 1.85"/>
<polyline points="248.25,408.6 249,446 249.75,408.6" stroke="#0a0aff" stroke-width="1.6" stroke-dasharray="1.6 1.85"/>
<polyline points="297.15,408.6 297.9,446 298.65,408.6" stroke="#0a0aff" stroke-width="1.6" stroke-dasharray="1.6 1.85"/>
<polyline points="312.05,408.6 312.8,440.7 313.55,408.6" stroke="#0a0aff" stroke-width="1.6" stroke-dasharray="1.6 1.85"/>
<polyline points="316.25,408.6 317,435.4 317.75,408.6" stroke="#0a0aff" stroke-width="1.6" stroke-dasharray="1.6 1.85"/>
<polyline points="322.15,408.6 322.9,428 323.65,408.6" stroke="#0a0aff" stroke-width="1.6" stroke-dasharray="1.6 1.85"/>
<polyline points="331.15,408.6 331.9,428 332.65,408.6" stroke="#0a0aff" stroke-width="1.6" stroke-dasharray="1.6 1.85"/>
<polyline points="333.25,408.6 334,437.6 334.75,408.6" stroke="#0a0aff" stroke-width="1.6" stroke-dasharray="1.6 1.85"/>
<polyline points="340.25,408.6 341,436 341.75,408.6" stroke="#0a0aff" stroke-width="1.6" stroke-dasharray="1.6 1.85"/>
<polyline points="348.25,408.6 349,431 349.75,408.6" stroke="#0a0aff" stroke-width="1.6" stroke-dasharray="1.6 1.85"/>
<polyline points="361.45,408.6 362.2,435.4 362.95,408.6" stroke="#0a0aff" stroke-width="1.6" stroke-dasharray="1.6 1.85"/>
<polyline points="363.75,408.6 364.5,433 365.25,408.6" stroke="#0a0aff" stroke-width="1.6" stroke-dasharray="1.6 1.85"/>
<polyline points="365.75,408.6 366.5,432 367.25,408.6" stroke="#0a0aff" stroke-width="1.6" stroke-dasharray="1.6 1.85"/>
<polyline points="368.35,408.6 369.1,418.4 369.85,408.6" stroke="#0a0aff" stroke-width="1.6" stroke-dasharray="1.6 1.85"/>
<polyline points="373.75,408.6 374.5,427 375.25,408.6" stroke="#0a0aff" stroke-width="1.6" stroke-dasharray="1.6 1.85"/>
<polyline points="377.15,408.6 377.9,431.7 378.65,408.6" stroke="#0a0aff" stroke-width="1.6" stroke-dasharray="1.6 1.85"/>
<polyline points="383.85,408.6 384.6,421 385.35,408.6" stroke="#0a0aff" stroke-width="1.6" stroke-dasharray="1.6 1.85"/>
<polyline points="388.65,408.6 389.4,437.6 390.15,408.6" stroke="#0a0aff" stroke-width="1.6" stroke-dasharray="1.6 1.85"/>
<polyline points="396.05,408.6 396.8,413 397.55,408.6" stroke="#0a0aff" stroke-width="1.6" stroke-dasharray="1.6 1.85"/>
<polyline points="400.85,408.6 401.6,413.6 402.35,408.6" stroke="#0a0aff" stroke-width="1.6" stroke-dasharray="1.6 1.85"/>
<polyline points="413.65,408.6 414.4,413 415.15,408.6" stroke="#0a0aff" stroke-width="1.6" stroke-dasharray="1.6 1.85"/>
<polyline points="417.85,408.6 418.6,416.3 419.35,408.6" stroke="#0a0aff" stroke-width="1.6" stroke-dasharray="1.6 1.85"/>
<polyline points="424.75,408.6 425.5,437 426.25,408.6" stroke="#0a0aff" stroke-width="1.6" stroke-dasharray="1.6 1.85"/>
<polyline points="430.15,408.6 430.9,424.8 431.65,408.6" stroke="#0a0aff" stroke-width="1.6" stroke-dasharray="1.6 1.85"/>
<polyline points="438.05,408.6 438.8,429 439.55,408.6" stroke="#0a0aff" stroke-width="1.6" stroke-dasharray="1.6 1.85"/>
<polyline points="447.15,408.6 447.9,426.4 448.65,408.6" stroke="#0a0aff" stroke-width="1.6" stroke-dasharray="1.6 1.85"/>
<polyline points="450.55,408.6 451.3,443.4 452.05,408.6" stroke="#0a0aff" stroke-width="1.6" stroke-dasharray="1.6 1.85"/>
<polyline points="460.45,408.6 461.2,439.1 461.95,408.6" stroke="#0a0aff" stroke-width="1.6" stroke-dasharray="1.6 1.85"/>
<polyline points="467.85,408.6 468.6,426.4 469.35,408.6" stroke="#0a0aff" stroke-width="1.6" stroke-dasharray="1.6 1.85"/>
<polyline points="475.25,408.6 476,414.7 476.75,408.6" stroke="#0a0aff" stroke-width="1.6" stroke-dasharray="1.6 1.85"/>
<polyline points="485.95,408.6 486.7,429 487.45,408.6" stroke="#0a0aff" stroke-width="1.6" stroke-dasharray="1.6 1.85"/>
<polyline points="503.05,408.6 503.8,443.4 504.55,408.6" stroke="#0a0aff" stroke-width="1.6" stroke-dasharray="1.6 1.85"/>
<polyline points="507.85,408.6 508.6,429 509.35,408.6" stroke="#0a0aff" stroke-width="1.6" stroke-dasharray="1.6 1.85"/>
<polyline points="509.45,408.6 510.2,420 510.95,408.6" stroke="#0a0aff" stroke-width="1.6" stroke-dasharray="1.6 1.85"/>
<polyline points="523.25,408.6 524,413.6 524.75,408.6" stroke="#0a0aff" stroke-width="1.6" stroke-dasharray="1.6 1.85"/>
<polyline points="529.85,408.6 530.6,446 531.35,408.6" stroke="#0a0aff" stroke-width="1.6" stroke-dasharray="1.6 1.85"/>
<polyline points="252.7,408.6 253.3,436.63 254.4,408.6 255,437.92 256.1,408.6 256.7,437.44" stroke="#0a0aff" stroke-width="1.6" stroke-dasharray="1.6 1.85"/>
<polyline points="259.6,408.6 260.2,438 261.3,408.6 261.9,437.35 263,408.6 263.6,438.17" stroke="#0a0aff" stroke-width="1.6" stroke-dasharray="1.6 1.85"/>
<polyline points="267.6,408.6 268.2,444.89 269.3,408.6 269.9,442.01 271,408.6 271.6,442.02 272.7,408.6 273.3,442.64" stroke="#0a0aff" stroke-width="1.6" stroke-dasharray="1.6 1.85"/>
<polyline points="279.3,408.6 279.9,437.17 281,408.6 281.6,438.74 282.7,408.6 283.3,439.08 284.4,408.6 285,438.84" stroke="#0a0aff" stroke-width="1.6" stroke-dasharray="1.6 1.85"/>
<polyline points="291,408.6 291.6,429.72 292.7,408.6 293.3,426.93 294.4,408.6 295,428.4 296.1,408.6 296.7,426.61" stroke="#0a0aff" stroke-width="1.6" stroke-dasharray="1.6 1.85"/>
<polyline points="300,408.6 300.6,440.25 301.7,408.6 302.3,437.97 303.4,408.6 304,438.41 305.1,408.6 305.7,441.8 306.8,408.6 307.4,440.96" stroke="#0a0aff" stroke-width="1.6" stroke-dasharray="1.6 1.85"/>
<polyline points="350,408.6 350.6,430.76 351.7,408.6 352.3,432.52 353.4,408.6 354,430.48 355.1,408.6 355.7,432.81" stroke="#0a0aff" stroke-width="1.6" stroke-dasharray="1.6 1.85"/>
<polyline points="435.5,408.6 436.1,432.71 437.2,408.6 437.8,430.48 438.9,408.6 439.5,429.89" stroke="#0a0aff" stroke-width="1.6" stroke-dasharray="1.6 1.85"/>
<polyline points="454.3,408.6 454.9,440.22 456,408.6 456.6,440.95" stroke="#0a0aff" stroke-width="1.6" stroke-dasharray="1.6 1.85"/>
<polyline points="462.8,408.6 463.4,428.67 464.5,408.6 465.1,426.14" stroke="#0a0aff" stroke-width="1.6" stroke-dasharray="1.6 1.85"/>
<polyline points="491.6,408.6 492.2,428.17 493.3,408.6 493.9,430.73" stroke="#0a0aff" stroke-width="1.6" stroke-dasharray="1.6 1.85"/>
<polyline points="497.4,408.6 498,440.81 499.1,408.6 499.7,441.4" stroke="#0a0aff" stroke-width="1.6" stroke-dasharray="1.6 1.85"/>
<polyline points="515.5,408.6 516.1,440.46 517.2,408.6 517.8,437.51" stroke="#0a0aff" stroke-width="1.6" stroke-dasharray="1.6 1.85"/>
<polyline points="66,324.2 95.4,324.2 95.6,435.3 96.5,430 98.4,407 99.9,380.3 101.3,378.8 103.4,356.5 104.2,352 104.6,333 105,356 105.8,335 106.2,350 106.8,334 107.3,348 108.2,331.2 110.2,328.5 111.8,326.5 113.8,325.6 117,325.6 118,328.5 119,325.8 122.5,325.8 123.4,328.5 124.3,325.8 129.6,325.6 130.6,325.6 130.8,371.3 131.2,371.3 131.4,318.4 133,319.8 133.61,319.92 134.21,319.77 134.82,319.38 135.43,320.27 136.04,319.33 136.64,320.18 137.25,319.36 137.86,319.87 138.46,319.57 139.07,319.68 139.68,320.83 140.29,320.59 140.89,319.81 141.5,320.77 142.11,319.71 142.71,320.03 143.32,320.79 143.93,320.48 144.54,319.64 145.14,321.08 145.75,319.87 146.36,319.96 146.96,320.81 147.57,320.13 148.18,320.1 148.79,319.77 149.39,319.82 150,320.63 150.6,320.09 151.2,320.67 151.8,320.31 152.4,320.45 153,321.26 153.6,320.51 154.2,320.66 154.8,321.13 155.4,320.05 156,320.01 156.6,321.22 157.2,321.08 157.8,320.18 158.4,320.09 159,320.97 159.6,321.3 160.2,320.12 160.8,321.33 161.4,321.23 162,320.79 162.6,320.5 163.2,320 163.8,319.9 164.4,321.38 165,320.23 165.6,320.98 166.2,320.27 166.8,321.19 167.4,320.83 168,320.35 168.6,320.17 169.2,321.04 169.8,320.01 170.4,320.27 171,320.8 171.6,321.28 172.2,320.9 172.8,320.38 173.4,321.4 174,320.27 174.6,319.97 175.2,320.38 175.8,320.67 176.4,320.06 177,320.25 177.6,320.57 178.2,320.9 178.8,320.2 179.4,320.57 180,321.43 180.62,321.82 181.25,321.55 181.88,321.86 182.5,321.94 183.12,321.47 183.75,321.56 184.38,321.78 185,323.46 185.6,322.72 186.2,322.74 186.8,320.83 187.4,321.42 188,320.77 188.6,321.15 189.21,320.48 189.81,321.55 190.42,320.06 191.02,320.8 191.62,321.09 192.23,321.33 192.83,321.06 193.43,320.99 194.04,321.12 194.64,321.3 195.25,320.38 195.85,320.9 196.45,321.23 197.06,321.17 197.66,320.43 198.26,321.01 198.87,321.11 199.47,320.63 200.08,320.7 200.68,320.29 201.28,320.6 201.89,320.63 202.49,319.77 203.09,320.65 203.7,321.2 204.3,321 204.91,320.74 205.51,320.18 206.11,320.72 206.72,320.46 207.32,320.22 207.92,320.84 208.53,319.62 209.13,320.67 209.74,319.5 210.34,320.4 210.94,320.2 211.55,319.78 212.15,320.51 212.75,320.18 213.36,320.35 213.96,320.82 214.57,319.75 215.17,319.34 215.77,319.79 216.38,320.38 216.98,319.6 217.58,319.53 218.19,320.69 218.79,320.29 219.4,319.92 220,320.63 220.61,319.72 221.21,320.25 221.82,319.49 222.42,319.86 223.03,320.45 223.64,320.62 224.24,320.56 224.85,319.75 225.45,320.06 226.06,319.63 226.67,319.33 227.27,319.9 227.88,320.44 228.48,320.45 229.09,320.22 229.7,320.6 230.3,319.51 230.91,319.33 231.52,319.78 232.12,319.49 232.73,319.38 233.33,319.7 233.94,320.03 234.55,319.81 235.15,319.52 235.76,320.35 236.36,320.57 236.97,319.71 237.58,319.1 238.18,319.02 238.79,320.36 239.39,319.02 240,320.08 240.61,319.86 241.21,319.43 241.82,320.19 242.42,318.95 243.03,319.13 243.64,319.63 244.24,318.94 244.85,320.22 245.45,319.26 246.06,319.1 246.67,318.94 247.27,319.87 247.88,319.57 248.48,319.85 249.09,319.88 249.7,320.12 250.3,320.35 250.91,319.91 251.52,319.13 252.12,319.56 252.73,319.08 253.33,318.8 253.94,319.53 254.55,319.91 255.15,319.05 255.76,319.19 256.36,319.3 256.97,319.85 257.58,319.56 258.18,319.71 258.79,319.93 259.39,319.34 260,319.97 260.61,320.15 261.21,318.85 261.82,320.2 262.42,319.87 263.03,318.92 263.64,319.44 264.24,319.72 264.85,320.18 265.45,319.33 266.06,319.64 266.67,320.14 267.27,320.01 267.88,320.25 268.48,319.48 269.09,319.79 269.7,319.08 270.3,319.91 270.91,320.06 271.52,319.78 272.12,319.91 272.73,319.1 273.33,320.21 273.94,320.34 274.55,320.34 275.15,319.63 275.76,320.04 276.36,319.29 276.97,320.24 277.58,320.16 278.18,319.35 278.79,318.93 279.39,319.5 280,319.68 280.66,320.81 281.32,321.14 281.98,321.19 282.64,323.21 283.3,322.8 283.98,323.6 284.65,322.23 285.32,322.11 286,322.46 286.61,321.43 287.22,321.46 287.83,322.05 288.43,322.39 289.04,322.59 289.65,322.36 290.26,322.77 290.87,322.06 291.48,322.8 292.09,321.42 292.7,321.65 293.3,322.15 293.91,321.78 294.52,322.49 295.13,322.35 295.74,322.18 296.35,322.7 296.96,322.25 297.57,321.86 298.17,321.98 298.78,322.74 299.39,322.83 300,321.73 300.6,322.75 301.2,322.92 301.8,322.19 302.4,322.25 303,321.64 303.6,322.16 304.2,322.09 304.8,322.24 305.4,321.3 306,322.79 306.6,322.05 307.2,321.85 307.8,322.47 308.4,322.08 309,321.95 309.6,322.25 310.2,321.23 310.8,321.97 311.4,321.76 312,322.61 312.6,322.54 313.2,321.48 313.8,321.79 314.4,321.22 315,321.69 315.62,322.22 316.25,322.28 316.88,321.52 317.5,321.18 318.12,320.9 318.75,321.5 319.38,321.91 320,320.56 320.62,321.52 321.25,320.22 321.88,320.42 322.5,320.39 323.12,321.04 323.75,320.38 324.38,320.35 325,320.69 325.67,319.27 326.33,319.67 327,318.1 327.67,319.48 328.33,319.83 329,320.52 329.62,321.05 330.25,320.9 330.88,320.8 331.5,321 332.3,321 332.3,424 333.3,424 334,330.6 335.2,330.6 335.9,362.5 336.6,362.5 337.9,322.9 338.8,327 339.42,327.03 340.04,326.42 340.66,326.47 341.28,327.13 341.9,327.12 342.52,326.93 343.14,327.42 343.76,327.02 344.38,327.39 345,326.37 345.7,327.22 346.4,327.36 347.1,327.54 347.8,326.64 348.5,326.67 349.2,327.68 349.4,349.35 349.9,350.6 350.1,326.82 350.7,325.61 351.31,325.78 351.91,326.56 352.51,325.82 353.12,325.56 353.72,326.73 354.32,326.07 354.92,326.66 355.53,325.6 356.13,326.04 356.73,326.5 357.34,325.43 357.94,325.72 358.54,326.49 359.15,326.86 359.75,326.95 360.35,325.58 360.95,326.21 361.56,326.61 362.16,326.2 362.76,326.5 363.37,325.7 363.97,325.51 364.57,325.57 365.18,325.46 365.78,326.28 366.38,326.22 366.98,326.31 367.59,325.63 368.19,325.7 368.79,325.73 369.4,326.74 370,326.98 370.67,327.98 371.33,327.75 372,328.8 372.67,329.19 373.33,327.37 374,326.82 374.62,326.13 375.24,326.37 375.86,326.45 376.48,326.33 377.1,326.61 377.72,325.68 378.34,326.79 378.96,327.03 379.58,325.98 380.2,326.5 380.4,327 380.6,341 381.2,341 381.4,318.8 382.2,319.53 383,319.35 383.61,319.03 384.22,318.99 384.83,319.56 385.43,318.78 386.04,320.19 386.65,320.06 387.26,319.92 387.87,320.18 388.48,319.82 389.09,319.48 389.7,319.8 390.3,319.66 390.91,320.44 391.52,320.17 392.13,319.31 392.74,320.37 393.35,320.11 393.96,320.18 394.57,320.25 395.17,319.61 395.78,320.41 396.39,320.39 397,320.11 398,322.93 399,320.42 399.61,319.87 400.22,320.39 400.83,319.36 401.44,319.81 402.06,320.03 402.67,319.32 403.28,319.89 403.89,320.36 404.5,320.35 405.11,319.74 405.72,320.89 406.33,320.47 406.94,319.96 407.56,320.49 408.17,320.36 408.78,320.32 409.39,320.11 410,321.1 411,324.23 412,320.82 412.61,320.93 413.21,321.29 413.82,319.76 414.43,320.72 415.04,320.93 415.64,320.16 416.25,320.4 416.86,319.85 417.46,320.09 418.07,320.39 418.68,319.96 419.29,320.21 419.89,321.27 420.5,320.71 421.11,320.65 421.71,321.39 422.32,320.76 422.93,321.45 423.54,320.89 424.14,321.17 424.75,320.01 425.36,320.85 425.96,321.12 426.57,319.99 427.18,321.41 427.79,320.19 428.39,320.7 429,320.22 429.61,320.75 430.21,320.95 430.82,320.07 431.43,321.5 432.04,320.67 432.64,320.85 433.25,320.97 433.86,320.61 434.46,320.49 435.07,321.09 435.68,320.95 436.29,320.51 436.89,321.21 437.5,320.55 438.11,320.11 438.71,320.48 439.32,320.17 439.93,320.36 440.54,321.33 441.14,320.75 441.75,321.57 442.36,321.34 442.96,320.24 443.57,321.75 444.18,321.68 444.79,320.3 445.39,321.64 446,320.89 447,324.46 448,321.76 448.6,320.59 449.2,321.04 449.8,321.7 450.4,321.36 451,320.95 451.6,321.77 452.2,321.51 452.8,321.17 453.4,320.38 454,321.2 454.6,320.93 455.2,320.53 455.8,320.28 456.4,321.04 457,320.4 457.5,323.41 458,321.27 458.62,320.99 459.25,320.74 459.88,321.32 460.5,321.12 461.12,321.76 461.75,321.42 462.38,322.23 463,322.22 463.64,322.06 464.27,321.45 464.91,321.43 465.55,322.86 466.18,322.86 466.82,322.79 467.45,322.55 468.09,322.59 468.73,323.43 469.36,323.42 470,323.65 470.6,323.89 471.2,324.27 471.8,323.54 472.4,323.82 473,325.17 473.6,325.25 474.2,325.37 474.8,324.2 475.4,324.42 476,324.93 476.62,325.18 477.25,325.5 477.88,324.66 478.5,325.37 479.12,324.62 479.75,324.64 480.38,325.58 481,325.38 481.62,325.51 482.25,325.1 482.88,325.27 483.5,324.84 484.12,325.05 484.75,325.69 485.38,325.84 486,324.62 486.6,324.41 487.2,325.23 487.8,324.66 488.4,324.61 489,323.44 489.6,323.5 490.2,322.95 490.8,323.56 491.4,322.57 492,322.75 492.62,323.17 493.23,321.99 493.85,322.23 494.46,322.43 495.08,322.6 495.69,321.69 496.31,321.48 496.92,320.93 497.54,322.06 498.15,320.67 498.77,320.56 499.38,321.22 500,320.98 500.61,321.28 501.22,320.64 501.83,321.39 502.44,320.25 503.06,320.45 503.67,321.15 504.28,320.2 504.89,320.54 505.5,321.19 506.11,321.13 506.72,320.45 507.33,320.21 507.94,320.53 508.56,321.1 509.17,320.51 509.78,320.09 510.39,321.02 511,320.78 511.61,321.32 512.22,321.33 512.83,321.27 513.44,320.49 514.06,321.06 514.67,320.24 515.28,320.25 515.89,320.36 516.5,320.5 516.8,321 516.8,370.4 517.4,370.4 517.5,320.5 531,320.3" stroke="#000" stroke-width="1.7"/>
<line x1="189.9" y1="270.6" x2="189.9" y2="445.5" stroke="#ff7078" stroke-width="2" stroke-dasharray="9.2 4.6"/>
</g>
<g font-family="'Liberation Serif', 'Times New Roman', serif" fill="#000"><text transform="translate(112.11,0) scale(0.9365,1)" x="0" y="47.30" font-size="15" textLength="35.82" lengthAdjust="spacing">Initial</text><text transform="translate(153.80,0) scale(0.9799,1)" x="0" y="47.30" font-size="15" textLength="31.65" lengthAdjust="spacing">wave</text><text transform="translate(200.53,0) scale(1.0461,1)" x="0" y="47.10" font-size="15" textLength="64.97" lengthAdjust="spacing">Resonance</text><text transform="translate(272.40,0) scale(0.9831,1)" x="0" y="47.10" font-size="15" textLength="31.65" lengthAdjust="spacing">wave</text></g>
<polygon points="162.9,58.3 172.2,49.2 172.2,53.6 186.2,53.6 186.2,62.5 172.2,62.5 172.2,67.4" fill="#fff" stroke="#1a1a1a" stroke-width="1.2" stroke-linejoin="miter"/>
<polygon points="218,58 207.2,49 207.2,54 196.3,54 196.3,62.4 207.2,62.4 207.2,67" fill="#fff" stroke="#1a1a1a" stroke-width="1.2" stroke-linejoin="miter"/>
<g font-family="'Liberation Serif', 'Times New Roman', serif" fill="#000"><text transform="translate(112.11,0) scale(0.9365,1)" x="0" y="290.80" font-size="15" textLength="35.82" lengthAdjust="spacing">Initial</text><text transform="translate(153.80,0) scale(0.9799,1)" x="0" y="290.80" font-size="15" textLength="31.65" lengthAdjust="spacing">wave</text><text transform="translate(197.33,0) scale(1.0461,1)" x="0" y="290.60" font-size="15" textLength="64.97" lengthAdjust="spacing">Resonance</text><text transform="translate(270.00,0) scale(0.9831,1)" x="0" y="290.60" font-size="15" textLength="31.65" lengthAdjust="spacing">wave</text></g>
<polygon points="162.9,301.8 172.2,292.7 172.2,297.1 186.2,297.1 186.2,306 172.2,306 172.2,310.9" fill="#fff" stroke="#1a1a1a" stroke-width="1.2" stroke-linejoin="miter"/>
<polygon points="218,301.5 207.2,292.5 207.2,297.5 196.3,297.5 196.3,305.9 207.2,305.9 207.2,310.5" fill="#fff" stroke="#1a1a1a" stroke-width="1.2" stroke-linejoin="miter"/>
<rect x="323.5" y="13.2" width="185.1" height="53.1" fill="#fff" stroke="#4a4a4a" stroke-width="1"/>
<line x1="327.2" y1="23.1" x2="361.2" y2="23.1" stroke="#000" stroke-width="1.8"/>
<line x1="327.2" y1="39.8" x2="361.2" y2="39.8" stroke="#0a0aff" stroke-width="1.6" stroke-dasharray="1.6 1.85"/>
<line x1="326.8" y1="56.5" x2="361.7" y2="56.5" stroke="#ff3a3f" stroke-width="1.4" stroke-dasharray="9.1 4.6"/>
<g font-family="'Liberation Serif', 'Times New Roman', serif" fill="#000"><text x="364.19" y="26.90" font-size="13.4" font-style="italic" style="stroke-width:0.1px" textLength="6.19" lengthAdjust="spacingAndGlyphs">v</text><text transform="translate(371.06,0) scale(1.1600,1)" x="0" y="29.00" font-size="9.8" font-style="italic" style="stroke-width:0.1px" textLength="18.60" lengthAdjust="spacing">PAN</text><text x="394.48" y="26.90" font-size="13.4" textLength="10.43" lengthAdjust="spacingAndGlyphs">=</text><text transform="translate(405.11,0) scale(1.1032,1)" x="0" y="26.90" font-size="13.4" textLength="16.75" lengthAdjust="spacing">0.1</text><text transform="translate(428.29,0) scale(1.1600,1)" x="0" y="26.90" font-size="13.4" textLength="21.08" lengthAdjust="spacing">m/s</text><text x="364.19" y="43.60" font-size="13.4" font-style="italic" style="stroke-width:0.1px" textLength="6.19" lengthAdjust="spacingAndGlyphs">v</text><text transform="translate(371.06,0) scale(1.1600,1)" x="0" y="45.70" font-size="9.8" font-style="italic" style="stroke-width:0.1px" textLength="18.60" lengthAdjust="spacing">PAN</text><text x="394.48" y="43.60" font-size="13.4" textLength="10.43" lengthAdjust="spacingAndGlyphs">=</text><text transform="translate(405.10,0) scale(1.1226,1)" x="0" y="43.60" font-size="13.4" textLength="16.75" lengthAdjust="spacing">0.5</text><text transform="translate(428.29,0) scale(1.1600,1)" x="0" y="43.60" font-size="13.4" textLength="21.08" lengthAdjust="spacing">m/s</text><text transform="translate(365.35,0) scale(1.0831,1)" x="0" y="59.80" font-size="13.4" textLength="41.66" lengthAdjust="spacing">Vertical</text><text transform="translate(416.22,0) scale(1.0329,1)" x="0" y="59.80" font-size="13.4" textLength="20.09" lengthAdjust="spacing">line</text><text transform="translate(440.76,0) scale(1.1600,1)" x="0" y="59.80" font-size="13.4" textLength="10.39" lengthAdjust="spacing">at</text><text x="456.72" y="59.80" font-size="13.4" textLength="5.02" lengthAdjust="spacingAndGlyphs">t</text><text x="461.41" y="59.80" font-size="13.4" textLength="13.46" lengthAdjust="spacingAndGlyphs">=</text><text transform="translate(478.71,0) scale(1.0655,1)" x="0" y="59.80" font-size="13.4" textLength="25.31" lengthAdjust="spacing">480s</text></g>
<rect x="306.4" y="248.7" width="185.1" height="53.1" fill="#fff" stroke="#4a4a4a" stroke-width="1"/>
<line x1="310.1" y1="258.6" x2="344.1" y2="258.6" stroke="#000" stroke-width="1.8"/>
<line x1="310.1" y1="275.3" x2="344.1" y2="275.3" stroke="#0a0aff" stroke-width="1.6" stroke-dasharray="1.6 1.85"/>
<line x1="309.7" y1="292" x2="344.6" y2="292" stroke="#ff3a3f" stroke-width="1.4" stroke-dasharray="9.1 4.6"/>
<g font-family="'Liberation Serif', 'Times New Roman', serif" fill="#000"><text x="347.09" y="262.40" font-size="13.4" font-style="italic" style="stroke-width:0.1px" textLength="6.19" lengthAdjust="spacingAndGlyphs">v</text><text transform="translate(353.96,0) scale(1.1600,1)" x="0" y="264.50" font-size="9.8" font-style="italic" style="stroke-width:0.1px" textLength="18.60" lengthAdjust="spacing">PAN</text><text x="377.38" y="262.40" font-size="13.4" textLength="10.43" lengthAdjust="spacingAndGlyphs">=</text><text transform="translate(388.04,0) scale(1.0457,1)" x="0" y="262.40" font-size="13.4" textLength="23.45" lengthAdjust="spacing">0.75</text><text transform="translate(417.99,0) scale(1.1600,1)" x="0" y="262.40" font-size="13.4" textLength="20.56" lengthAdjust="spacing">m/s</text><text x="347.09" y="279.10" font-size="13.4" font-style="italic" style="stroke-width:0.1px" textLength="6.19" lengthAdjust="spacingAndGlyphs">v</text><text transform="translate(353.96,0) scale(1.1600,1)" x="0" y="281.20" font-size="9.8" font-style="italic" style="stroke-width:0.1px" textLength="18.60" lengthAdjust="spacing">PAN</text><text x="377.38" y="279.10" font-size="13.4" textLength="10.43" lengthAdjust="spacingAndGlyphs">=</text><text transform="translate(387.50,0) scale(1.1410,1)" x="0" y="279.10" font-size="13.4" textLength="16.75" lengthAdjust="spacing">1.0</text><text transform="translate(410.79,0) scale(1.1600,1)" x="0" y="279.10" font-size="13.4" textLength="20.82" lengthAdjust="spacing">m/s</text><text transform="translate(348.25,0) scale(1.0831,1)" x="0" y="295.30" font-size="13.4" textLength="41.66" lengthAdjust="spacing">Vertical</text><text transform="translate(399.12,0) scale(1.0329,1)" x="0" y="295.30" font-size="13.4" textLength="20.09" lengthAdjust="spacing">line</text><text transform="translate(423.66,0) scale(1.1600,1)" x="0" y="295.30" font-size="13.4" textLength="10.39" lengthAdjust="spacing">at</text><text x="439.62" y="295.30" font-size="13.4" textLength="5.02" lengthAdjust="spacingAndGlyphs">t</text><text x="444.31" y="295.30" font-size="13.4" textLength="13.46" lengthAdjust="spacingAndGlyphs">=</text><text transform="translate(461.61,0) scale(1.0655,1)" x="0" y="295.30" font-size="13.4" textLength="25.31" lengthAdjust="spacing">480s</text></g>
<g class="tt" font-family="'Liberation Serif', 'Times New Roman', serif" fill="#000"><text transform="translate(71.09,0) scale(1.1600,1)" x="0" y="20.60" font-size="13.6" textLength="15.19" lengthAdjust="spacing">(a)</text><text x="93.72" y="20.60" font-size="13.6" font-style="italic" style="stroke-width:0.1px" textLength="8.24" lengthAdjust="spacingAndGlyphs">h</text><text x="102.57" y="23.00" font-size="10.8" font-style="italic" style="stroke-width:0.1px" textLength="6.09" lengthAdjust="spacingAndGlyphs">w</text><text transform="translate(113.05,0) scale(1.1600,1)" x="0" y="20.60" font-size="13.6" textLength="11.26" lengthAdjust="spacing">at</text><text x="129.79" y="20.60" font-size="13.6" font-style="italic" style="stroke-width:0.1px" textLength="6.19" lengthAdjust="spacingAndGlyphs">v</text><text transform="translate(136.66,0) scale(1.1600,1)" x="0" y="23.50" font-size="10.0" font-style="italic" style="stroke-width:0.1px" textLength="19.62" lengthAdjust="spacing">PAN</text><text x="165.01" y="20.60" font-size="13.6" textLength="11.16" lengthAdjust="spacingAndGlyphs">=</text><text transform="translate(180.71,0) scale(1.0934,1)" x="0" y="20.60" font-size="13.6" textLength="17.00" lengthAdjust="spacing">0.1</text><text transform="translate(203.97,0) scale(1.1082,1)" x="0" y="20.60" font-size="13.6" textLength="19.64" lengthAdjust="spacing">and</text><text transform="translate(230.54,0) scale(1.0307,1)" x="0" y="20.60" font-size="13.6" textLength="17.00" lengthAdjust="spacing">0.5</text><text transform="translate(252.58,0) scale(1.1600,1)" x="0" y="20.60" font-size="13.6" textLength="21.43" lengthAdjust="spacing">m/s</text></g>
<g class="tt" font-family="'Liberation Serif', 'Times New Roman', serif" fill="#000"><text transform="translate(71.09,0) scale(1.1600,1)" x="0" y="262.60" font-size="13.6" textLength="15.19" lengthAdjust="spacing">(a)</text><text x="93.72" y="262.60" font-size="13.6" font-style="italic" style="stroke-width:0.1px" textLength="8.24" lengthAdjust="spacingAndGlyphs">h</text><text x="102.57" y="265.00" font-size="10.8" font-style="italic" style="stroke-width:0.1px" textLength="6.09" lengthAdjust="spacingAndGlyphs">w</text><text transform="translate(113.05,0) scale(1.1600,1)" x="0" y="262.60" font-size="13.6" textLength="11.26" lengthAdjust="spacing">at</text><text x="129.79" y="262.60" font-size="13.6" font-style="italic" style="stroke-width:0.1px" textLength="6.19" lengthAdjust="spacingAndGlyphs">v</text><text transform="translate(136.66,0) scale(1.1600,1)" x="0" y="265.50" font-size="10.0" font-style="italic" style="stroke-width:0.1px" textLength="19.62" lengthAdjust="spacing">PAN</text><text x="165.01" y="262.60" font-size="13.6" textLength="11.16" lengthAdjust="spacingAndGlyphs">=</text><text transform="translate(180.73,0) scale(1.0391,1)" x="0" y="262.60" font-size="13.6" textLength="23.80" lengthAdjust="spacing">0.75</text><text transform="translate(210.47,0) scale(1.1134,1)" x="0" y="262.60" font-size="13.6" textLength="19.64" lengthAdjust="spacing">and</text><text transform="translate(236.87,0) scale(0.9739,1)" x="0" y="262.60" font-size="13.6" textLength="17.00" lengthAdjust="spacing">1.0</text><text transform="translate(259.18,0) scale(1.1600,1)" x="0" y="262.60" font-size="13.6" textLength="21.43" lengthAdjust="spacing">m/s</text></g>
<g font-family="'Liberation Serif', 'Times New Roman', serif" fill="#000"><text transform="translate(251.09,0) scale(1.0131,1)" x="0" y="236.60" font-size="13.6" textLength="27.96" lengthAdjust="spacing">Flow</text><text transform="translate(285.45,0) scale(1.1104,1)" x="0" y="236.60" font-size="13.6" textLength="24.17" lengthAdjust="spacing">time</text><text x="316.30" y="236.60" font-size="13.6" textLength="4.44" lengthAdjust="spacingAndGlyphs">(</text><text x="319.98" y="236.60" font-size="13.6" font-style="italic" style="stroke-width:0.1px" textLength="4.47" lengthAdjust="spacingAndGlyphs">t</text><text x="326.72" y="236.60" font-size="13.6" textLength="3.62" lengthAdjust="spacingAndGlyphs">,</text><text x="334.39" y="236.60" font-size="13.6" textLength="5.93" lengthAdjust="spacingAndGlyphs">s</text><text x="340.88" y="236.60" font-size="13.6" textLength="4.61" lengthAdjust="spacingAndGlyphs">)</text></g>
<g font-family="'Liberation Serif', 'Times New Roman', serif" fill="#000"><text transform="translate(251.09,0) scale(1.0131,1)" x="0" y="480.30" font-size="13.6" textLength="27.96" lengthAdjust="spacing">Flow</text><text transform="translate(285.45,0) scale(1.1104,1)" x="0" y="480.30" font-size="13.6" textLength="24.17" lengthAdjust="spacing">time</text><text x="316.30" y="480.30" font-size="13.6" textLength="4.44" lengthAdjust="spacingAndGlyphs">(</text><text x="319.98" y="480.30" font-size="13.6" font-style="italic" style="stroke-width:0.1px" textLength="4.47" lengthAdjust="spacingAndGlyphs">t</text><text x="326.72" y="480.30" font-size="13.6" textLength="3.62" lengthAdjust="spacingAndGlyphs">,</text><text x="334.39" y="480.30" font-size="13.6" textLength="5.93" lengthAdjust="spacingAndGlyphs">s</text><text x="340.88" y="480.30" font-size="13.6" textLength="4.61" lengthAdjust="spacingAndGlyphs">)</text></g>
<g class="yl" font-family="'Liberation Serif', 'Times New Roman', serif" fill="#000" transform="translate(15.0,0) rotate(-90)"><text transform="translate(-182.80,0) scale(1.0367,1)" x="0" y="0.00" font-size="13.6" textLength="30.62" lengthAdjust="spacing">Wave</text><text transform="translate(-144.74,0) scale(1.0199,1)" x="0" y="0.00" font-size="13.6" textLength="33.99" lengthAdjust="spacing">height</text><text x="-106.13" y="0.00" font-size="13.6" textLength="6.14" lengthAdjust="spacingAndGlyphs">(</text><text x="-100.88" y="0.00" font-size="13.6" font-style="italic" style="stroke-width:0.1px" textLength="9.76" lengthAdjust="spacingAndGlyphs">h</text><text x="-90.74" y="2.40" font-size="10.0" font-style="italic" style="stroke-width:0.1px" textLength="6.30" lengthAdjust="spacingAndGlyphs">w</text><text x="-83.60" y="0.00" font-size="13.6" textLength="3.10" lengthAdjust="spacingAndGlyphs">,</text><text transform="translate(-75.38,0) scale(1.0318,1)" x="0" y="0.00" font-size="13.6" textLength="21.16" lengthAdjust="spacing">mm</text><text x="-52.94" y="0.00" font-size="13.6" textLength="6.02" lengthAdjust="spacingAndGlyphs">)</text></g>
<g class="yl" font-family="'Liberation Serif', 'Times New Roman', serif" fill="#000" transform="translate(25.4,0) rotate(-90)"><text transform="translate(-425.80,0) scale(1.0367,1)" x="0" y="0.00" font-size="13.6" textLength="30.62" lengthAdjust="spacing">Wave</text><text transform="translate(-387.74,0) scale(1.0199,1)" x="0" y="0.00" font-size="13.6" textLength="33.99" lengthAdjust="spacing">height</text><text x="-349.13" y="0.00" font-size="13.6" textLength="6.14" lengthAdjust="spacingAndGlyphs">(</text><text x="-343.88" y="0.00" font-size="13.6" font-style="italic" style="stroke-width:0.1px" textLength="9.76" lengthAdjust="spacingAndGlyphs">h</text><text x="-333.74" y="2.40" font-size="10.0" font-style="italic" style="stroke-width:0.1px" textLength="6.30" lengthAdjust="spacingAndGlyphs">w</text><text x="-326.60" y="0.00" font-size="13.6" textLength="3.10" lengthAdjust="spacingAndGlyphs">,</text><text transform="translate(-318.38,0) scale(1.0318,1)" x="0" y="0.00" font-size="13.6" textLength="21.16" lengthAdjust="spacing">mm</text><text x="-295.94" y="0.00" font-size="13.6" textLength="6.02" lengthAdjust="spacingAndGlyphs">)</text></g>
</svg>
</body></html>
